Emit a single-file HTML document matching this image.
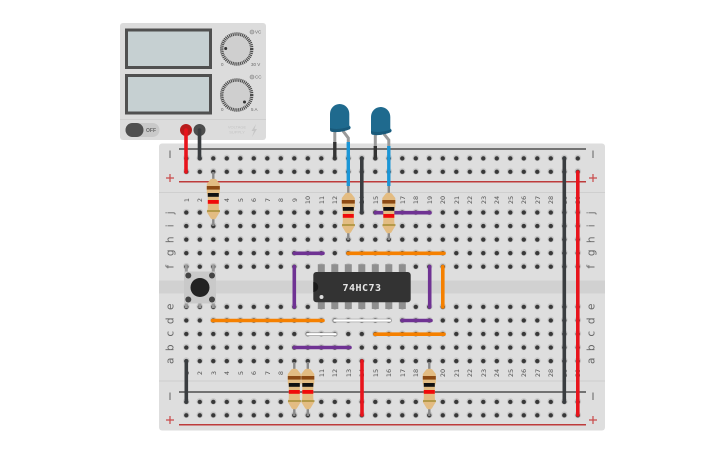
<!DOCTYPE html>
<html>
<head>
<meta charset="utf-8">
<style>
html,body{margin:0;padding:0;background:#fff;width:725px;height:453px;overflow:hidden}
svg{display:block;position:absolute;left:0;top:0;font-family:"Liberation Sans",sans-serif}
.nums{position:absolute;left:179.55px;display:flex;font:6.5px/10px "DejaVu Sans",sans-serif;color:#555}
.nums b{display:block;flex:none;width:13.5px;height:10px;font-weight:normal;text-align:center;transform:rotate(-90deg)}
.let{position:absolute;width:12px;font:10.5px/13.5px "DejaVu Sans",sans-serif;color:#666}
.let b{display:block;height:13.5px;font-weight:normal;text-align:center;transform:rotate(-90deg)}
.w{fill:none;stroke-width:3.6;stroke-linecap:round}
.ps{font-size:4.5px;fill:#666}
</style>
</head>
<body>
<svg width="725" height="453" viewBox="0 0 725 453" xmlns="http://www.w3.org/2000/svg">
<defs>
<g id="ho"><circle cx="6.75" cy="6.4" r="3.3" fill="#c8c8c8"/><circle cx="6.75" cy="6.9" r="2.2" fill="#383838"/></g>
<pattern id="p1" patternUnits="userSpaceOnUse" x="179.55" y="151.5" width="13.5" height="13.4"><use href="#ho"/></pattern>
<pattern id="p2" patternUnits="userSpaceOnUse" x="179.55" y="205.6" width="13.5" height="13.55"><use href="#ho"/></pattern>
<pattern id="p3" patternUnits="userSpaceOnUse" x="179.55" y="300" width="13.5" height="13.55"><use href="#ho"/></pattern>
<pattern id="p4" patternUnits="userSpaceOnUse" x="179.55" y="395" width="13.5" height="13.4"><use href="#ho"/></pattern>
</defs>
<rect x="120" y="23" width="146" height="117" rx="3" fill="#dcdcdc"/>
<line x1="120" y1="119.5" x2="266" y2="119.5" stroke="#cfcfcf"/>
<rect x="126.5" y="30" width="84" height="37.5" fill="#c6d0d2" stroke="#505050" stroke-width="3"/>
<rect x="126.5" y="75.5" width="84" height="37.5" fill="#c6d0d2" stroke="#505050" stroke-width="3"/>
<circle cx="236.7" cy="49" r="15" fill="#cfcfcf" stroke="#4a4a4a" stroke-width="3.4" stroke-dasharray="1.1 .8"/>
<circle cx="236.7" cy="95" r="15" fill="#cfcfcf" stroke="#4a4a4a" stroke-width="3.4" stroke-dasharray="1.1 .8"/>
<circle cx="225.7" cy="48.5" r="1.5" fill="#333"/>
<circle cx="244.5" cy="102" r="1.5" fill="#333"/>
<circle cx="252" cy="32" r="2" fill="#bbb" stroke="#888" stroke-width=".6"/>
<circle cx="252" cy="77" r="2" fill="#bbb" stroke="#888" stroke-width=".6"/>
<text class="ps" x="255" y="33.5">VC</text>
<text class="ps" x="255" y="78.5">CC</text>
<text class="ps" x="221" y="66">0</text>
<text class="ps" x="251" y="66">30 V</text>
<text class="ps" x="221" y="111">0</text>
<text class="ps" x="251" y="111">5 A</text>
<rect x="125.5" y="123" width="34" height="14" rx="7" fill="#c9c9c9"/>
<rect x="125.5" y="123" width="18" height="14" rx="7" fill="#4f4f4f"/>
<text x="151" y="132" font-size="5" font-weight="bold" fill="#666" text-anchor="middle">OFF</text>
<text x="237" y="128.5" font-size="4" fill="#c4c4c4" text-anchor="middle">VOLTAGE</text>
<text x="237" y="133.5" font-size="4" fill="#c4c4c4" text-anchor="middle">SUPPLY</text>
<path d="M256 124L251.5 131H254L252 137L257 129H254.5Z" fill="#c6c6c6"/>
<circle cx="186" cy="130" r="6" fill="#b81c1c"/>
<circle cx="199.5" cy="130" r="6" fill="#4d4d4d"/>
<rect x="159" y="143.5" width="446" height="287" rx="3" fill="#dedede"/>
<rect x="159" y="280.5" width="446" height="13" fill="#d1d1d1"/>
<line x1="159" y1="192.5" x2="605" y2="192.5" stroke="#cfcfcf"/>
<line x1="159" y1="381" x2="605" y2="381" stroke="#cfcfcf"/>
<line x1="179" y1="149" x2="586" y2="149" stroke="#333" stroke-width="1.3"/>
<line x1="179" y1="181.7" x2="586" y2="181.7" stroke="#bd3b3b" stroke-width="1.5"/>
<line x1="179" y1="392" x2="586" y2="392" stroke="#333" stroke-width="1.3"/>
<line x1="179" y1="424.7" x2="586" y2="424.7" stroke="#bd3b3b" stroke-width="1.5"/>
<rect x="179.55" y="151.5" width="405" height="26.8" fill="url(#p1)"/>
<rect x="179.55" y="205.6" width="405" height="67.75" fill="url(#p2)"/>
<rect x="179.55" y="300" width="405" height="67.75" fill="url(#p3)"/>
<rect x="179.55" y="395" width="405" height="26.8" fill="url(#p4)"/>
<path d="M170 150.5V158M593 150.5V158M170 392.5V400M593 392.5V400" stroke="#777" stroke-width="1.2" fill="none"/>
<path d="M166 178H174M170 174V182M589 178H597M593 174V182M166 420H174M170 416V424M589 420H597M593 416V424" stroke="#c94a4a" stroke-width="1.2" fill="none"/>
</svg>

<div class="nums" style="top:195px"><b>1</b><b>2</b><b>3</b><b>4</b><b>5</b><b>6</b><b>7</b><b>8</b><b>9</b><b>10</b><b>11</b><b>12</b><b>13</b><b>14</b><b>15</b><b>16</b><b>17</b><b>18</b><b>19</b><b>20</b><b>21</b><b>22</b><b>23</b><b>24</b><b>25</b><b>26</b><b>27</b><b>28</b><b>29</b><b>30</b></div>
<div class="nums" style="top:368px"><b>1</b><b>2</b><b>3</b><b>4</b><b>5</b><b>6</b><b>7</b><b>8</b><b>9</b><b>10</b><b>11</b><b>12</b><b>13</b><b>14</b><b>15</b><b>16</b><b>17</b><b>18</b><b>19</b><b>20</b><b>21</b><b>22</b><b>23</b><b>24</b><b>25</b><b>26</b><b>27</b><b>28</b><b>29</b><b>30</b></div>
<div class="let" style="left:165px;top:205.5px"><b>j</b><b>i</b><b>h</b><b>g</b><b>f</b></div>
<div class="let" style="left:586px;top:205.5px"><b>j</b><b>i</b><b>h</b><b>g</b><b>f</b></div>
<div class="let" style="left:165px;top:300px"><b>e</b><b>d</b><b>c</b><b>b</b><b>a</b></div>
<div class="let" style="left:586px;top:300px"><b>e</b><b>d</b><b>c</b><b>b</b><b>a</b></div>

<svg width="725" height="453" viewBox="0 0 725 453" xmlns="http://www.w3.org/2000/svg">
<defs>
<g id="res">
<path d="M0 -7V47" stroke="#8a8a8a" stroke-width="2.4" fill="none"/>
<path d="M-3 0.5C-1.5 -0.5 1.5 -0.5 3 0.5L6.5 5V14C5.5 16 5.5 18 5.5 20V27C5.5 29 5.5 31 6.5 33L2.5 39.5C1 40.5 -1 40.5 -2.5 39.5L-6.5 33C-5.5 31 -5.5 29 -5.5 27V20C-5.5 18 -5.5 16 -6.5 14V5Z" fill="#e3bc82"/>
<rect x="-6.5" y="7" width="13" height="3.6" fill="#8c4a14"/>
<rect x="-5.5" y="14" width="11" height="3.8" fill="#111"/>
<rect x="-5.5" y="21" width="11" height="3.8" fill="#f00a0a"/>
<rect x="-6.3" y="31.3" width="13" height="1.4" fill="#a08a30"/>
</g>
</defs>
<path d="M317.8 268.3H406" stroke="#8f8f8f" stroke-width="8" fill="none" stroke-dasharray="7 6.5"/>
<path d="M317.8 305.5H406" stroke="#8f8f8f" stroke-width="7" fill="none" stroke-dasharray="7 6.5"/>
<rect x="313.3" y="272" width="97.4" height="30.3" rx="3" fill="#333"/>
<path d="M313.3 282a5 5 0 0 1 0 10z" fill="#1a1a1a"/>
<circle cx="321.5" cy="297" r="2" fill="#ddd"/>
<text x="362" y="291" font-family="'DejaVu Sans Mono',monospace" font-size="10" font-weight="bold" fill="#e6e6e6" text-anchor="middle" letter-spacing=".5">74HC73</text>
<g fill="#9a9a9a"><rect x="184.8" y="264.5" width="3" height="8"/><rect x="211.8" y="264.5" width="3" height="8"/><rect x="184.8" y="302" width="3" height="6"/><rect x="198.3" y="302" width="3" height="6"/><rect x="211.8" y="302" width="3" height="6"/></g>
<rect x="184" y="271.5" width="32" height="32" rx="2" fill="#c9c9c9"/>
<circle cx="188.3" cy="275.5" r="3" fill="#444"/><circle cx="212" cy="275.5" r="3" fill="#444"/><circle cx="188.3" cy="299.5" r="3" fill="#444"/><circle cx="212" cy="299.5" r="3" fill="#444"/>
<circle cx="200" cy="287.5" r="9.5" fill="#222"/>
<g class="w">
<path d="M294.3 253.3H323M294.3 266.5V307M375.5 212.7H430M429.7 266.5V307M402 320.5H431M294.3 347.5H350" stroke="#6f3293"/>
<path d="M348 253.3H444M442.8 266.5V307M212.5 320.5H323M375 334.2H444" stroke="#f58000"/>
<path d="M186 130V172M362 361V415M577.8 172V415" stroke="#e8141c"/>
<path d="M199.5 130V158M186.3 361V402M564.3 158V402M361.8 158V212" stroke="#3a3d40"/>
<path d="M334.5 320.5H390M307.5 334.2H335.5" stroke="#999"/>
<path d="M334.5 320.5H390M307.5 334.2H335.5" stroke="#fff" stroke-width="2.2"/>
</g>
<use href="#res" x="213.3" y="179"/>
<use href="#res" x="348.3" y="193"/>
<use href="#res" x="388.8" y="193"/>
<use href="#res" x="294.3" y="369"/>
<use href="#res" x="307.8" y="369"/>
<use href="#res" x="429.3" y="369"/>
<g fill="none" stroke="#9a9a9a" stroke-width="3">
<path d="M334.8 128V143"/><path d="M343 131L348.3 138V146"/>
<path d="M375.3 131V147"/><path d="M384 134L388.8 140V149"/>
</g>
<path d="M334.8 142V158M375.3 146V158" stroke="#333" stroke-width="3.4" fill="none"/>
<path d="M348.3 142V186M388.8 146V186" stroke="#1b96d6" stroke-width="3.4" fill="none"/>
<path d="M330 128V114A9.6 10 0 0 1 349.3 114V125.5C351 127 351 128 350 129C345 131.5 335 133 331 131.5C330 131 330 129 330 128Z" fill="#1f6a8e"/>
<path d="M330 128C336 130 344 128.5 349.8 126.5L350 129C345 131.5 335 133 331 131.5C330 131 330 129 330 128Z" fill="#1a5a7a"/>
<path d="M371 131V117A9.6 10 0 0 1 390.3 117V128.5C392 130 392 131 391 132C386 134.5 376 136 372 134.5C371 134 371 132 371 131Z" fill="#1f6a8e"/>
<path d="M371 131C377 133 385 131.500 390.8 129.500L391 132C386 134.500 376 136 372 134.500C371 134 371 132 371 131Z" fill="#1a5a7a"/>
</svg>
</body>
</html>
